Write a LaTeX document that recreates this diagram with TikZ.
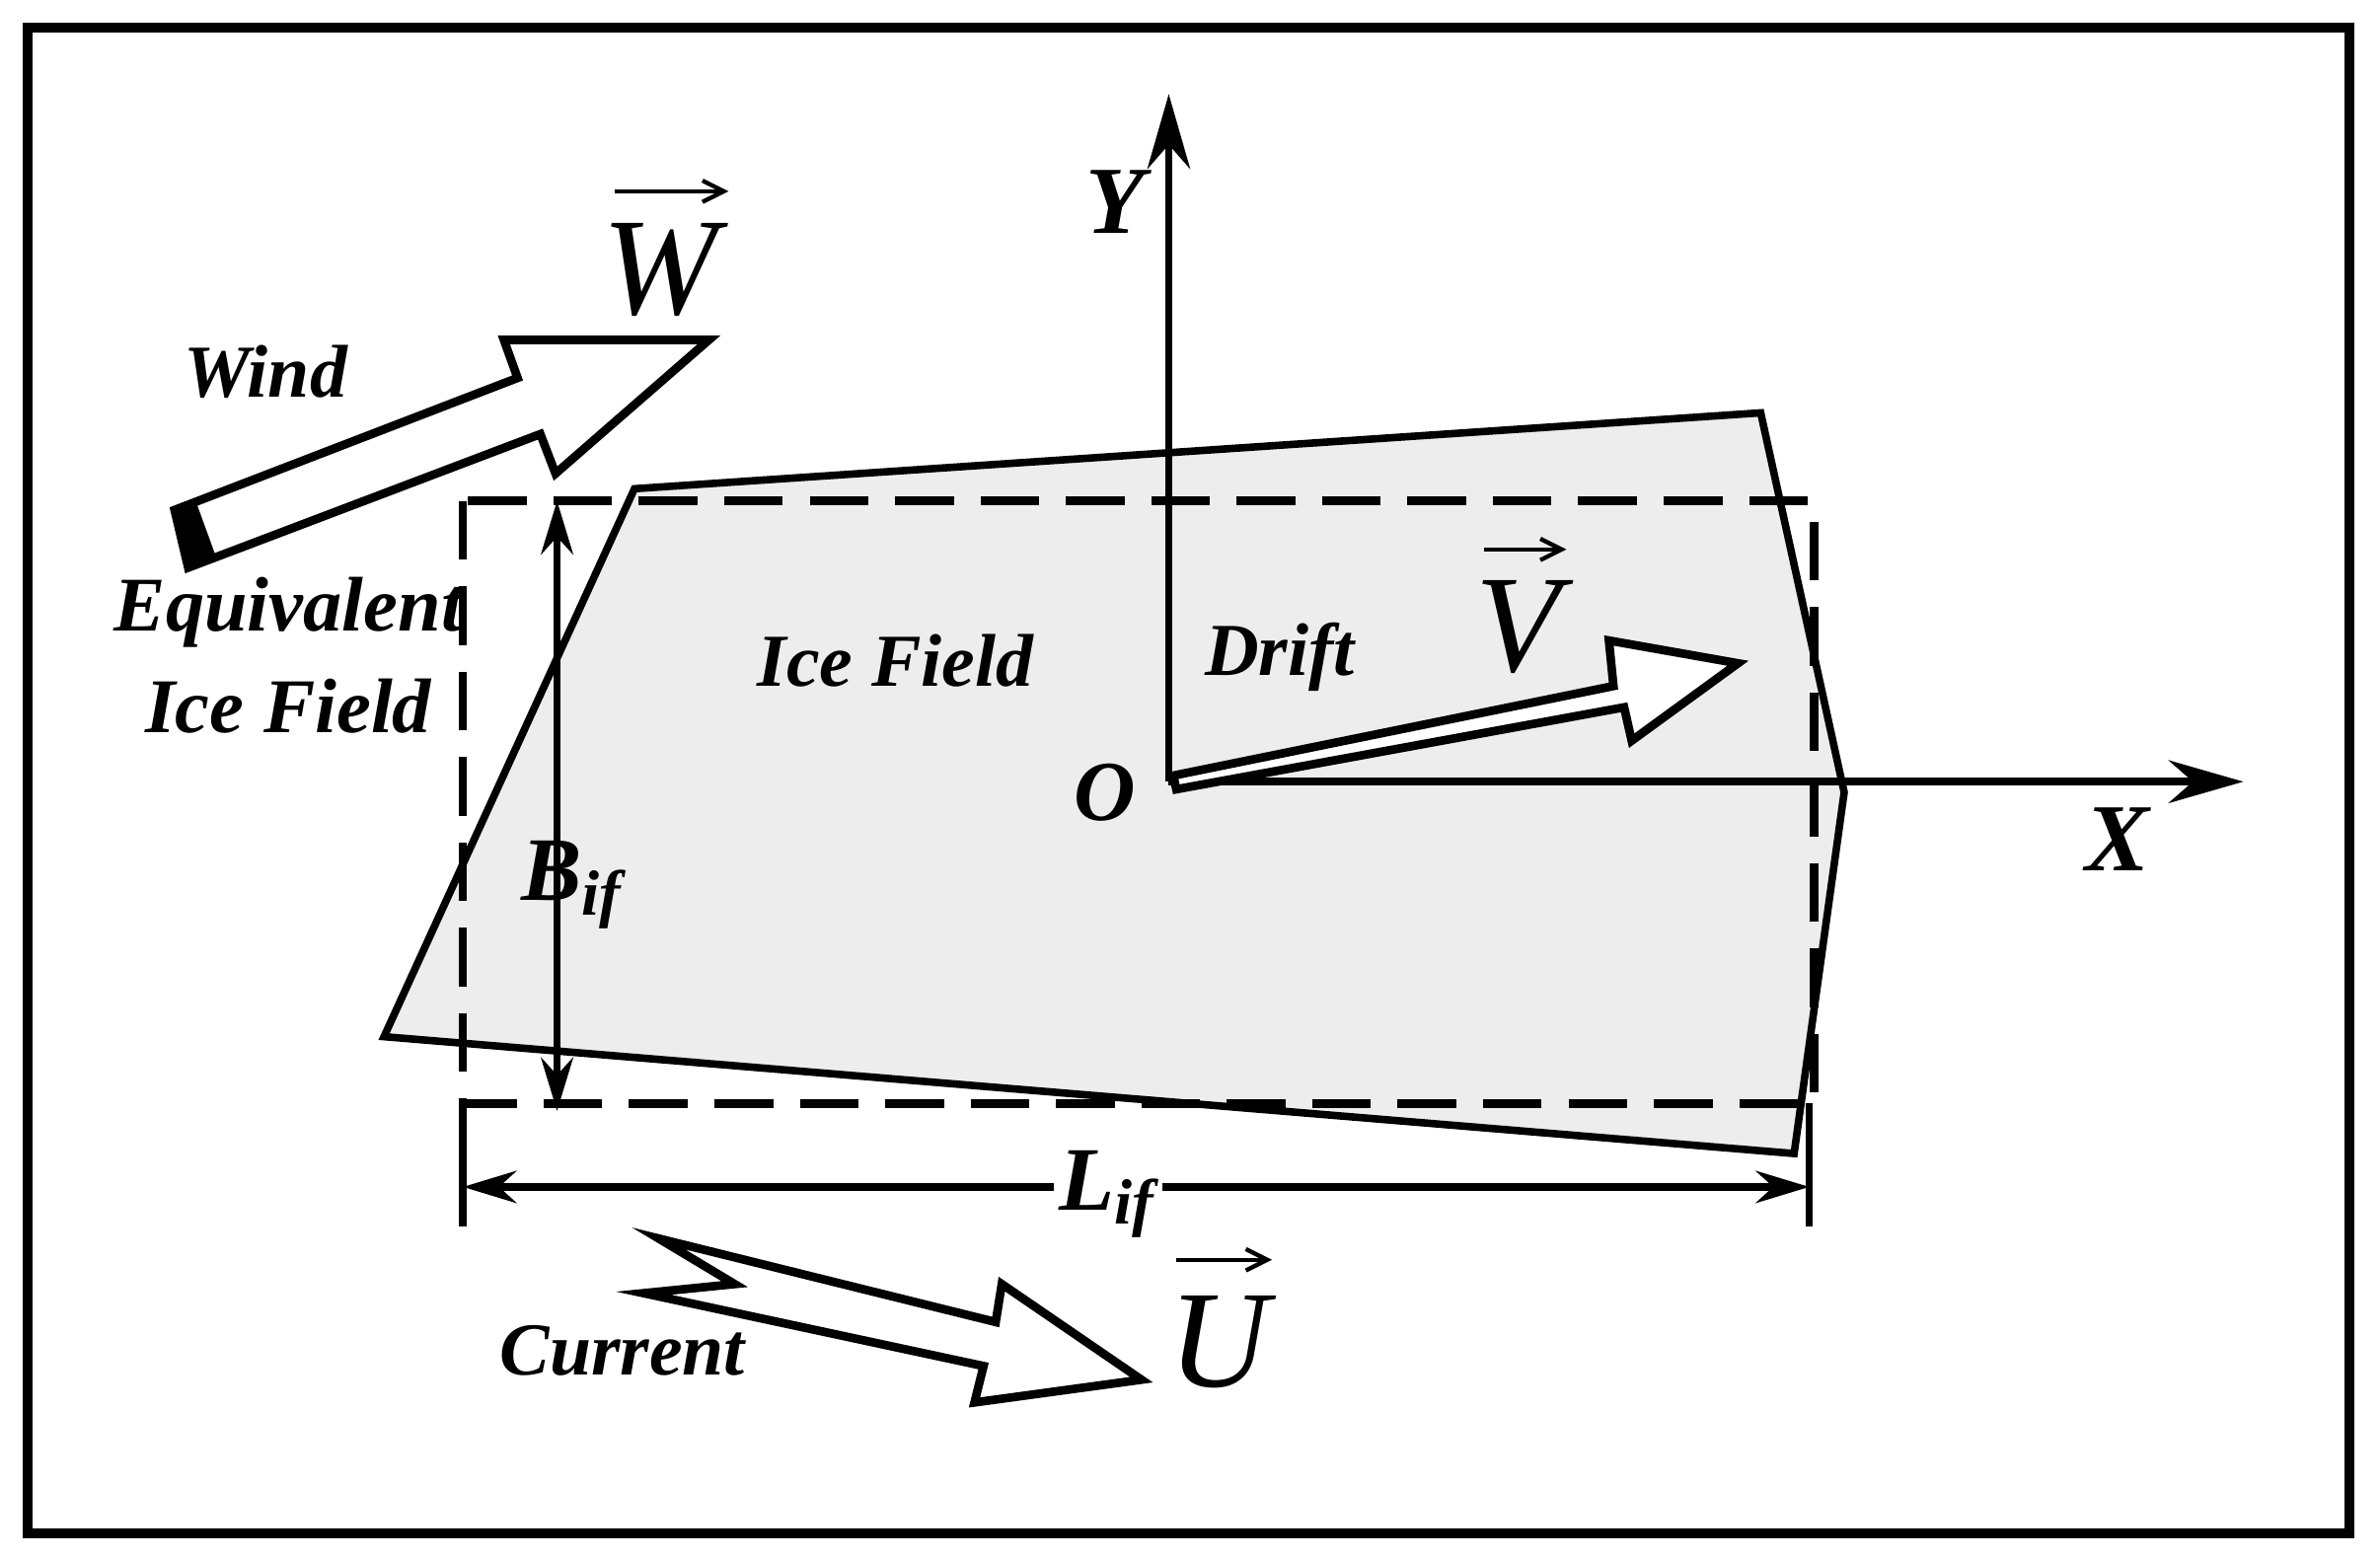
\documentclass[tikz,border=0pt]{standalone}
\usepackage{fontspec}
\setmainfont{Liberation Serif}
\usetikzlibrary{arrows.meta}
\begin{document}
\begin{tikzpicture}[x=0.01cm,y=-0.01cm,
  lbl/.style={font=\fontsize{14}{16}\selectfont\bfseries\itshape, align=center},
  big/.style={font=\fontsize{26}{28}\selectfont\itshape, inner sep=0pt},
  vecarrow/.style={line width=0.8pt, -{Straight Barb[length=4pt,width=4pt]}},
  ln/.style={line width=1.4pt},
  blk/.style={line width=1.6pt, fill=white, line join=miter}]
\useasboundingbox (0,0) rectangle (1568,1027);
\draw[line width=1.8pt] (18,18) rectangle (1548,1010);
% ice field
\draw[ln, fill=black!7, line join=miter] (418,322) -- (1160,272) -- (1215,522) -- (1182,760) -- (253,683) -- cycle;
\draw[line width=1.6pt, dash pattern=on 11pt off 5pt] (305,330) rectangle (1195,727);
% axes
\coordinate (O) at (770,515);
\coordinate (Ytop) at (770,62);
\coordinate (Xend) at (1478,515);
\draw[ln, -{Stealth[length=14pt,width=8pt]}] (O) -- (Ytop);
\draw[ln, -{Stealth[length=14pt,width=8pt]}] (O) -- (Xend);
\node[lbl, font=\fontsize{18}{20}\selectfont\bfseries\itshape] (ylab) at (735,133) {Y};
\node[lbl, font=\fontsize{18}{20}\selectfont\bfseries\itshape] (xlab) at (1395,553) {X};
\node[lbl, font=\fontsize{16}{18}\selectfont\bfseries\itshape] (olab) at (728,522) {O};
% B_if
\coordinate (b1) at (367,330); \coordinate (b2) at (367,732);
\draw[ln, {Stealth[length=10pt,width=6pt]}-{Stealth[length=10pt,width=6pt]}] (b1) -- (b2);
\node[lbl, font=\fontsize{17}{20}\selectfont\bfseries\itshape] (blab) at (377,583) {B\textsubscript{\fontsize{12}{12}\selectfont if}};
% L_if
\coordinate (e1t) at (305,727); \coordinate (e1b) at (305,808);
\coordinate (e2t) at (1192,727); \coordinate (e2b) at (1192,808);
\draw[ln] (e1t) -- (e1b); \draw[ln] (e2t) -- (e2b);
\coordinate (l1) at (305,782); \coordinate (l2) at (1192,782);
\draw[ln, {Stealth[length=10pt,width=6pt]}-{Stealth[length=10pt,width=6pt]}] (l1) -- (l2);
\node[lbl, font=\fontsize{17}{20}\selectfont\bfseries\itshape, fill=white, inner sep=1pt] (llab) at (730,787) {L\textsubscript{\fontsize{12}{12}\selectfont if}};
% wind arrow
\draw[blk] (115,336) -- (341,249) -- (332,224) -- (467,224) -- (366,312) -- (356,286) -- (124,374) -- cycle;
\fill (115,336) -- (130,333) -- (142,366) -- (124,374) -- cycle;
\node[lbl] (wind) at (175,245) {Wind};
\node[big] (wlab) at (435,178) {W};
\draw[vecarrow] (405,126) -- (480,126);
% drift arrow
\draw[blk] (773,511) -- (1063,452) -- (1060,422) -- (1145,437) -- (1075,488) -- (1070,466) -- (775,520) -- cycle;
\node[lbl] (drift) at (843,433) {Drift};
\node[big] (vlab) at (1000,413) {V};
\draw[vecarrow] (978,362) -- (1032,362);
% current arrow
\draw[blk] (434,816) -- (656,871) -- (660,846) -- (752,909) -- (642,924) -- (648,900) -- (424,852) -- (484,846) -- cycle;
\node[lbl] (current) at (410,890) {Current};
\node[big] (ulab) at (803,884) {U};
\draw[vecarrow] (775,830) -- (838,830);
% labels
\node[lbl, font=\fontsize{14.5}{19}\selectfont\bfseries\itshape] (eq) at (190,432) {Equivalent\\Ice Field};
\node[lbl] (ice) at (590,435) {Ice Field};
\end{tikzpicture}
\end{document}
